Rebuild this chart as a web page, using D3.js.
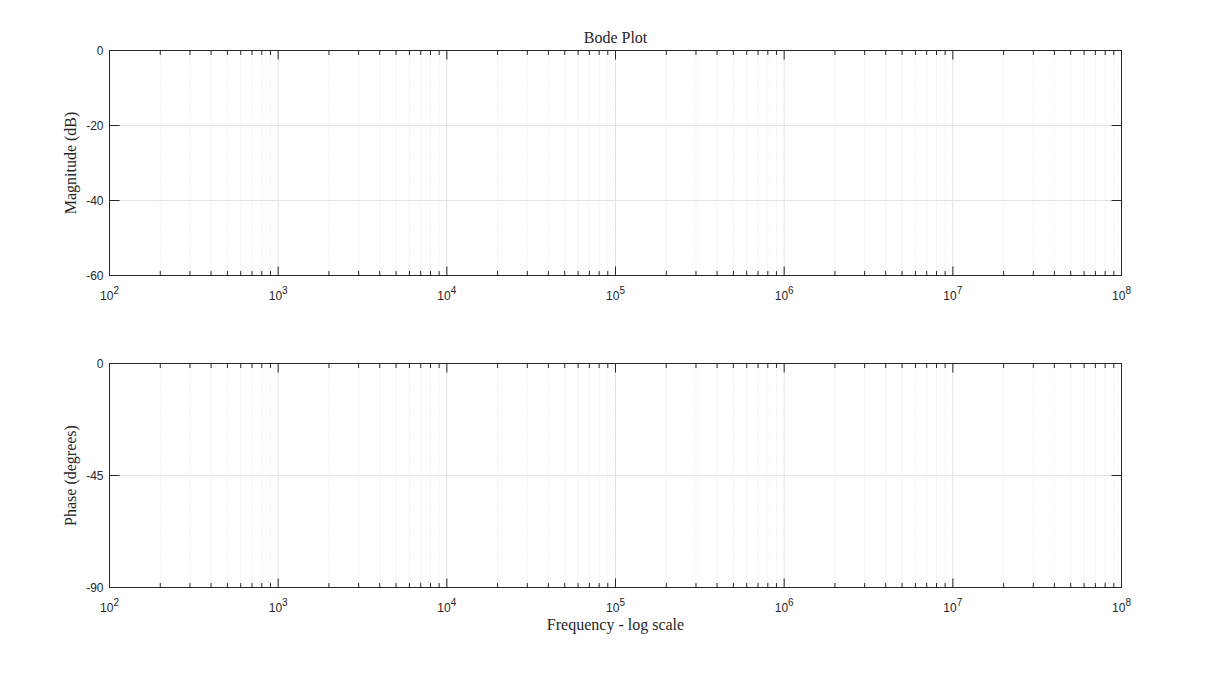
<!doctype html>
<html lang="en">
<head>
  <meta charset="utf-8">
  <title>Bode Plot</title>
  <style>
    body { margin: 0; background: #fff; }
    .tick-label { font-family: "Liberation Sans", Arial, sans-serif; font-size: 12px; fill: #262626; }
    .label { font-family: "Liberation Serif", "DejaVu Serif", serif; font-size: 16px; fill: #262626; }
  </style>
</head>
<body>
  <div id="vis"></div>
  <script src="https://d3js.org/d3.v7.min.js"></script>
  <script>
    // chart values
    const freqDomain = [1e2, 1e8];
    const freqDecades = [2, 3, 4, 5, 6, 7, 8];
    const magDomain = [-60, 0];
    const magTicks = [0, -20, -40, -60];
    const phaseDomain = [-90, 0];
    const phaseTicks = [0, -45, -90];
    const titleText = 'Bode Plot';
    const magLabel = 'Magnitude (dB)';
    const phaseLabel = 'Phase (degrees)';
    const freqLabel = 'Frequency - log scale';

    const W = 1215, H = 677;
    const left = 109.5, right = 1121.5;
    const panels = [
      { top: 50.5, bottom: 275.5, domain: magDomain, ticks: magTicks, ylabel: magLabel },
      { top: 363.5, bottom: 587.5, domain: phaseDomain, ticks: phaseTicks, ylabel: phaseLabel }
    ];
    const axisColor = '#262626';

    const svg = d3.select('#vis')
      .append('svg')
        .attr('width', W)
        .attr('height', H);

    const x = d3.scaleLog().domain(freqDomain).range([left, right]);

    // minor tick values: 2..9 times each decade
    const minor = [];
    for (let e = freqDecades[0]; e < freqDecades[freqDecades.length - 1]; e++) {
      for (let m = 2; m <= 9; m++) minor.push(m * Math.pow(10, e));
    }
    const major = freqDecades.map(e => Math.pow(10, e));

    panels.forEach(p => {
      const y = d3.scaleLinear().domain(p.domain).range([p.bottom, p.top]);
      const g = svg.append('g');

      // minor grid
      g.selectAll('.mgrid').data(minor).enter().append('line')
        .attr('x1', d => x(d)).attr('x2', d => x(d))
        .attr('y1', p.top).attr('y2', p.bottom)
        .attr('stroke', '#e3e3e3').attr('stroke-width', 1)
        .attr('stroke-dasharray', '1,2');

      // major grid
      g.selectAll('.xgrid').data(major).enter().append('line')
        .attr('x1', d => x(d)).attr('x2', d => x(d))
        .attr('y1', p.top).attr('y2', p.bottom)
        .attr('stroke', '#e2e2e2').attr('stroke-width', 1);
      g.selectAll('.ygrid').data(p.ticks).enter().append('line')
        .attr('x1', left).attr('x2', right)
        .attr('y1', d => y(d)).attr('y2', d => y(d))
        .attr('stroke', '#e2e2e2').attr('stroke-width', 1);

      // x ticks (inward, top and bottom)
      [[p.bottom, -1], [p.top, 1]].forEach(([yy, dir]) => {
        g.selectAll(null).data(major).enter().append('line')
          .attr('x1', d => x(d)).attr('x2', d => x(d))
          .attr('y1', yy).attr('y2', yy + dir * 9)
          .attr('stroke', axisColor);
        g.selectAll(null).data(minor).enter().append('line')
          .attr('x1', d => x(d)).attr('x2', d => x(d))
          .attr('y1', yy).attr('y2', yy + dir * 4.5)
          .attr('stroke', axisColor);
      });

      // y ticks (inward, left and right)
      [[left, 1], [right, -1]].forEach(([xx, dir]) => {
        g.selectAll(null).data(p.ticks).enter().append('line')
          .attr('x1', xx).attr('x2', xx + dir * 10)
          .attr('y1', d => y(d)).attr('y2', d => y(d))
          .attr('stroke', axisColor);
      });

      // box
      g.append('rect')
        .attr('x', left).attr('y', p.top)
        .attr('width', right - left).attr('height', p.bottom - p.top)
        .attr('fill', 'none').attr('stroke', axisColor).attr('stroke-width', 1);

      // y tick labels
      g.selectAll('.ylab').data(p.ticks).enter().append('text')
        .attr('class', 'tick-label')
        .attr('x', left - 6)
        .attr('y', d => y(d))
        .attr('dy', '0.35em')
        .attr('text-anchor', 'end')
        .text(d => d);

      // x tick labels 10^n
      const xl = g.selectAll('.xlab').data(freqDecades).enter().append('text')
        .attr('class', 'tick-label')
        .attr('x', d => x(Math.pow(10, d)))
        .attr('y', p.bottom + 24)
        .attr('text-anchor', 'middle');
      xl.append('tspan').text('10');
      xl.append('tspan')
        .attr('dy', -6)
        .attr('font-size', '10px')
        .text(d => d);

      // y label
      svg.append('text')
        .attr('class', 'label')
        .attr('transform', `translate(76, ${(p.top + p.bottom) / 2}) rotate(-90)`)
        .attr('text-anchor', 'middle')
        .text(p.ylabel);
    });

    svg.append('text')
      .attr('class', 'label')
      .attr('x', (left + right) / 2)
      .attr('y', 43)
      .attr('text-anchor', 'middle')
      .text(titleText);

    svg.append('text')
      .attr('class', 'label')
      .attr('x', (left + right) / 2)
      .attr('y', 630)
      .attr('text-anchor', 'middle')
      .text(freqLabel);
  </script>
</body>
</html>
